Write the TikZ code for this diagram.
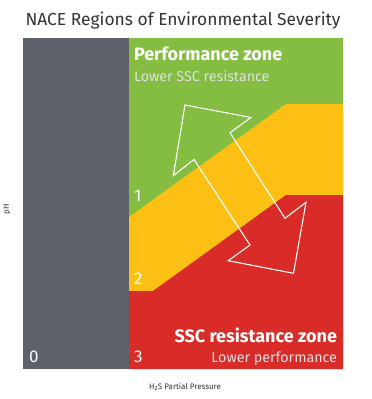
\documentclass[tikz,border=0pt]{standalone}
\usepackage{fontspec}
\setmainfont{Fira Sans}
\usepackage{xcolor}
\usetikzlibrary{calc}
\definecolor{slate}{HTML}{5D6068}
\definecolor{leaf}{HTML}{84BD41}
\definecolor{amber}{HTML}{FCBF14}
\definecolor{brick}{HTML}{D92B27}
\definecolor{ink}{HTML}{333333}

\begin{document}
\begin{tikzpicture}[x=1pt,y=-1pt,every node/.style={inner sep=0pt,outer sep=0pt}, zonehead/.style={font=\fontsize{18}{18}\selectfont\bfseries,text=white}, zonesub/.style={font=\fontsize{14.3}{14.3}\selectfont,text=white!88!black}, level/.style={font=\fontsize{17}{17}\selectfont,text=white}, axislbl/.style={font=\fontsize{8}{8}\selectfont,text=ink}]
	\useasboundingbox(0,0)rectangle(372,399);
	\fill[slate](23,38)rectangle(129,369);
	\fill[leaf](129,38)rectangle(343,369);
	\fill[amber](129,217)--(286,104)--(343,104)--(343,369)--(129,369)--cycle;
	\fill[brick](129,291)--(153,291)--(286,195)--(343,195)--(343,369)--(129,369)--cycle;
	\draw[white,line width=1.1pt,line join=miter](185,105)--(251,117.5)--(230,132.7)--(285,218.3)--(306,202.3)--(293.5,273.3)--(228.3,260.7)--(250,245)--(194,159.5)--(173.3,175.7)--cycle;
	\node(title)at(183,25)[anchor=base,font=\fontsize{17.4}{17.4}\selectfont,text=ink]{NACE Regions of Environmental Severity};
	\node(perf)at(134,60)[anchor=base west,zonehead]{Performance zone};
	\node(perfsub)at(134,81)[anchor=base west,zonesub]{Lower SSC resistance};
	\node(ssc)at(337,342.7)[anchor=base east,zonehead]{SSC resistance zone};
	\node(sscsub)at(337,362)[anchor=base east,zonesub]{Lower performance};
	\node(r0)at(29,362.7)[anchor=base west,level]{0};
	\node(r1)at(134,201.7)[anchor=base west,level]{1};
	\node(r2)at(134,284.3)[anchor=base west,level]{2};
	\node(r3)at(134,362.7)[anchor=base west,level]{3};
	\node(ph)at(7,209)[rotate=90,axislbl]{pH};
	\node(h2s)at(185,389)[anchor=base,axislbl]{H\textsubscript{2}S Partial Pressure};
\end{tikzpicture}
\end{document}
